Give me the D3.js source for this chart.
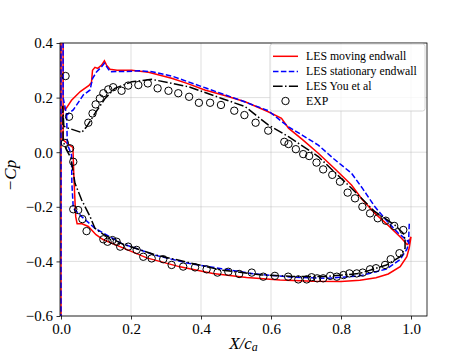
<!DOCTYPE html>
<html><head><meta charset="utf-8">
<script src="https://cdn.jsdelivr.net/npm/d3@7"></script>
<style>body{margin:0;background:#fff}svg{display:block}</style>
</head><body>
<svg id="c" width="474" height="355"></svg>
<script>
// ---- data (x = X/c_a, y = -Cp); null breaks a line ----
const movingEndwall = [
  [0.000,-0.70],[0.000,0.50],null,
  [0.990,-0.340],[0.973,-0.315],[0.935,-0.268],[0.897,-0.224],[0.860,-0.172],[0.830,-0.120],[0.780,-0.058],[0.735,-0.004],[0.690,0.046],[0.650,0.088],[0.630,0.124],[0.592,0.148],[0.526,0.185],[0.470,0.207],[0.411,0.228],[0.360,0.252],[0.316,0.271],[0.250,0.293],[0.202,0.300],[0.160,0.300],[0.140,0.304],[0.130,0.319],[0.124,0.335],[0.116,0.319],[0.105,0.307],[0.097,0.311],[0.090,0.300],[0.087,0.255],[0.080,0.245],[0.055,0.222],[0.030,0.190],[0.012,0.155],[0.006,0.170],[0.006,0.50],null,
  [0.006,0.17],[0.006,0.045],[0.020,0.030],[0.034,0.018],[0.037,-0.100],[0.042,-0.236],[0.046,-0.262],[0.060,-0.262],[0.078,-0.272],[0.100,-0.302],[0.120,-0.320],[0.170,-0.347],[0.245,-0.387],[0.340,-0.420],[0.434,-0.444],[0.530,-0.459],[0.626,-0.468],[0.720,-0.473],[0.800,-0.474],[0.854,-0.469],[0.900,-0.460],[0.935,-0.446],[0.969,-0.419],[0.988,-0.383],[0.995,-0.350],[1.000,-0.310],[0.990,-0.340]
];
const stationaryEndwall = [
  [0.000,-0.70],[0.000,0.50],null,
  [0.995,-0.262],[0.993,-0.330],[0.988,-0.322],[0.964,-0.297],[0.930,-0.250],[0.897,-0.200],[0.860,-0.130],[0.830,-0.077],[0.780,-0.025],[0.735,0.026],[0.690,0.062],[0.650,0.093],[0.592,0.152],[0.511,0.191],[0.416,0.234],[0.321,0.277],[0.260,0.295],[0.226,0.298],[0.188,0.296],[0.140,0.295],[0.124,0.326],[0.116,0.313],[0.102,0.295],[0.090,0.270],[0.083,0.228],[0.064,0.210],[0.035,0.155],[0.016,0.136],[0.006,0.200],[0.006,0.50],null,
  [0.016,0.136],[0.018,0.030],[0.030,-0.010],[0.031,-0.113],[0.035,-0.205],[0.059,-0.236],[0.097,-0.279],[0.173,-0.334],[0.269,-0.377],[0.364,-0.407],[0.459,-0.427],[0.554,-0.446],[0.664,-0.458],[0.759,-0.462],[0.854,-0.453],[0.930,-0.428],[0.969,-0.393],[0.988,-0.356],[0.995,-0.330]
];
const lesYouEtAl = [
  [0.983,-0.320],[0.983,-0.352],[0.969,-0.383],[0.930,-0.413],[0.854,-0.444],[0.759,-0.455],[0.664,-0.455],[0.569,-0.449],[0.459,-0.432],[0.364,-0.404],[0.269,-0.376],[0.173,-0.335],[0.120,-0.300],[0.097,-0.279],[0.083,-0.236],[0.059,-0.175],[0.040,-0.114],[0.028,-0.020],[0.015,0.010],[0.006,0.040],[0.005,0.170],[0.008,0.095],[0.021,0.088],[0.059,0.072],[0.073,0.093],[0.097,0.142],[0.126,0.197],[0.154,0.234],[0.202,0.258],[0.259,0.267],[0.364,0.240],[0.459,0.197],[0.526,0.167],[0.592,0.100],[0.650,0.057],[0.735,-0.016],[0.830,-0.132],[0.897,-0.218],[0.954,-0.267],[0.978,-0.297],[0.983,-0.320]
];
const expSuction = [
  [0.013,0.279],[0.023,0.130],[0.078,0.108],[0.090,0.142],[0.099,0.175],[0.111,0.197],[0.121,0.216],[0.135,0.230],[0.149,0.238],[0.173,0.225],[0.192,0.244],[0.221,0.246],[0.248,0.252],[0.276,0.234],[0.307,0.225],[0.335,0.216],[0.366,0.203],[0.394,0.181],[0.426,0.181],[0.457,0.173],[0.495,0.152],[0.524,0.136],[0.556,0.108],[0.592,0.079],[0.638,0.038],[0.650,0.030],[0.671,0.011],[0.692,-0.007],[0.709,-0.014],[0.730,-0.038],[0.749,-0.063],[0.775,-0.083],[0.797,-0.108],[0.819,-0.148],[0.840,-0.169],[0.861,-0.200],[0.883,-0.224],[0.905,-0.242],[0.928,-0.251],[0.952,-0.270],[0.978,-0.285]
];
const expPressure = [
  [0.011,0.034],[0.026,0.014],[0.035,-0.035],[0.035,-0.209],[0.049,-0.212],[0.061,-0.245],[0.073,-0.289],[0.121,-0.319],[0.133,-0.328],[0.147,-0.322],[0.159,-0.328],[0.169,-0.346],[0.192,-0.346],[0.216,-0.358],[0.235,-0.383],[0.259,-0.389],[0.292,-0.392],[0.316,-0.413],[0.349,-0.419],[0.383,-0.422],[0.416,-0.429],[0.447,-0.441],[0.478,-0.438],[0.509,-0.446],[0.545,-0.441],[0.578,-0.456],[0.611,-0.453],[0.649,-0.456],[0.678,-0.466],[0.702,-0.466],[0.716,-0.458],[0.732,-0.462],[0.749,-0.462],[0.769,-0.453],[0.788,-0.456],[0.807,-0.450],[0.824,-0.444],[0.845,-0.444],[0.862,-0.441],[0.883,-0.429],[0.900,-0.425],[0.926,-0.413],[0.942,-0.392],[0.967,-0.370]
];
const xTicks = [0.0,0.2,0.4,0.6,0.8,1.0];
const yTicks = [-0.6,-0.4,-0.2,0.0,0.2,0.4];
const legendLabels = ["LES moving endwall","LES stationary endwall","LES You et al","EXP"];

// ---- layout ----
const L=60,R=427,T=43,B=316;
const font="'Liberation Serif', 'DejaVu Serif', serif";
const svg=d3.select("#c");
const x=d3.scaleLinear().domain([-0.0029,1.0457]).range([L,R]);
const y=d3.scaleLinear().domain([-0.6,0.4]).range([B,T]);

svg.append("defs").append("clipPath").attr("id","clip")
  .append("rect").attr("x",L).attr("y",T).attr("width",R-L).attr("height",B-T);

// grid
const g=svg.append("g");
g.selectAll(".gx").data(xTicks).join("line")
  .attr("x1",d=>x(d)).attr("x2",d=>x(d)).attr("y1",T).attr("y2",B)
  .attr("stroke","#b0b0b0").attr("stroke-opacity",0.5).attr("stroke-width",0.8);
g.selectAll(".gy").data(yTicks).join("line")
  .attr("y1",d=>y(d)).attr("y2",d=>y(d)).attr("x1",L).attr("x2",R)
  .attr("stroke","#b0b0b0").attr("stroke-opacity",0.5).attr("stroke-width",0.8);

// axes
const fmt=d=>d3.format(".1f")(d).replace("-","\u2212");
const xa=svg.append("g").attr("transform",`translate(0,${B})`)
  .call(d3.axisBottom(x).tickValues(xTicks).tickFormat(fmt).tickSize(3.5).tickPadding(3.5));
const ya=svg.append("g").attr("transform",`translate(${L},0)`)
  .call(d3.axisLeft(y).tickValues(yTicks).tickFormat(fmt).tickSize(3.5).tickPadding(3.5));
[xa,ya].forEach(a=>{a.select(".domain").remove();
  a.selectAll("text").attr("font-family",font).attr("font-size",15).attr("fill","#000");
  a.selectAll("line").attr("stroke","#000").attr("stroke-width",0.8);});

// lines
const line=d3.line().defined(d=>d!==null).x(d=>x(d[0])).y(d=>y(d[1]));
const plot=svg.append("g").attr("clip-path","url(#clip)");
plot.append("path").datum(movingEndwall).attr("d",line).attr("fill","none")
  .attr("stroke","#ff0000").attr("stroke-width",1.5);
plot.append("path").datum(stationaryEndwall).attr("d",line).attr("fill","none")
  .attr("stroke","#0000ff").attr("stroke-width",1.5).attr("stroke-dasharray","5.5,2.4");
plot.append("path").datum(lesYouEtAl).attr("d",line).attr("fill","none")
  .attr("stroke","#000").attr("stroke-width",1.5).attr("stroke-dasharray","9.6,2.4,1.5,2.4");
plot.selectAll("circle.e").data(expSuction.concat(expPressure)).join("circle")
  .attr("cx",d=>x(d[0])).attr("cy",d=>y(d[1])).attr("r",3.7)
  .attr("fill","none").attr("stroke","#000").attr("stroke-width",1);

// frame
svg.append("rect").attr("x",L).attr("y",T).attr("width",R-L).attr("height",B-T)
  .attr("fill","none").attr("stroke","#000").attr("stroke-width",0.8);

// legend
const lg=svg.append("g");
lg.append("rect").attr("x",270).attr("y",44).attr("width",155).attr("height",67).attr("rx",2.5)
  .attr("fill","#fff").attr("fill-opacity",0.8).attr("stroke","#cccccc").attr("stroke-width",0.8);
const rows=[56.3,71.6,86.2,101];
const styles=[{c:"#ff0000",d:null},{c:"#0000ff",d:"5.5,2.4"},{c:"#000",d:"9.6,2.4,1.5,2.4"}];
legendLabels.forEach((lab,i)=>{
  if(i<3){lg.append("line").attr("x1",273).attr("x2",298).attr("y1",rows[i]).attr("y2",rows[i])
      .attr("stroke",styles[i].c).attr("stroke-width",1.5).attr("stroke-dasharray",styles[i].d);}
  else {lg.append("circle").attr("cx",285.5).attr("cy",rows[i]).attr("r",3.7)
      .attr("fill","none").attr("stroke","#000").attr("stroke-width",1);}
  lg.append("text").attr("x",306).attr("y",rows[i]+3.8).text(lab)
    .attr("font-family",font).attr("font-size",11.8).attr("fill","#000");
});

// axis labels
const xl=svg.append("text").attr("x",(L+R)/2).attr("y",349).attr("text-anchor","middle")
  .attr("font-family",font).attr("font-size",17).attr("font-style","italic");
xl.append("tspan").text("X/c");
xl.append("tspan").text("a").attr("font-size",12).attr("dy",2);
const yl=svg.append("text").attr("transform",`translate(16,${(T+B)/2-4}) rotate(-90)`)
  .attr("text-anchor","middle").attr("font-family",font).attr("font-size",17).attr("font-style","italic");
yl.append("tspan").text("\u2212Cp");
</script>
</body></html>
